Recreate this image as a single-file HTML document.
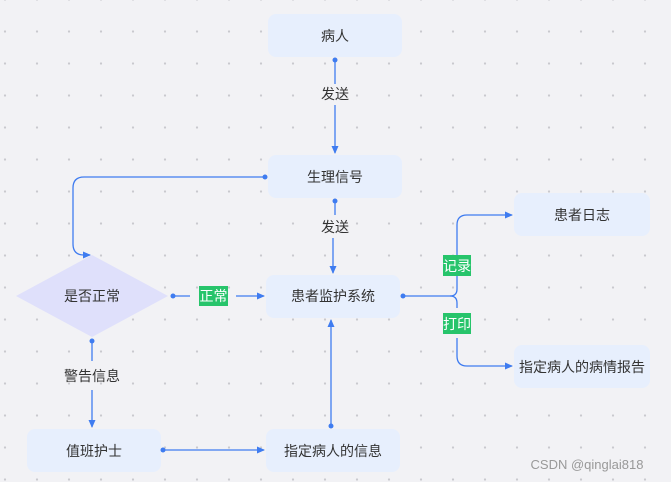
<!DOCTYPE html>
<html><head><meta charset="utf-8"><style>
html,body{margin:0;padding:0}
body{width:671px;height:482px;overflow:hidden;background-color:#f2f2f5;
background-image:radial-gradient(circle,#c9c9ce 1px,transparent 1.3px);
background-size:32px 32px;background-position:-11px 15.5px;
font-family:"Liberation Sans","Noto Sans CJK SC",sans-serif;position:relative}
svg{position:absolute;left:0;top:0}
text{font-family:"Liberation Sans","Noto Sans CJK SC",sans-serif;font-size:14px;fill:#333}
</style></head><body>
<svg width="671" height="482" viewBox="0 0 671 482">
<defs><marker id="a" markerWidth="8" markerHeight="8" refX="7" refY="4" orient="auto" markerUnits="userSpaceOnUse"><path d="M0,0.5 L8,4 L0,7.5 Z" fill="#3f7cf0"/></marker></defs>
<g fill="#e7effd">
<rect x="268" y="14" width="134" height="43" rx="8"/>
<rect x="268" y="155" width="134" height="43" rx="8"/>
<rect x="266" y="275" width="134" height="43" rx="8"/>
<rect x="514" y="193" width="136" height="43" rx="8"/>
<rect x="514" y="345" width="136" height="43" rx="8"/>
<rect x="27" y="429" width="134" height="43" rx="8"/>
<rect x="266" y="429" width="134" height="43" rx="8"/>
</g>
<polygon points="92,255 168,296 92,337 16,296" fill="#dfe0fb"/>
<g stroke="#3f7cf0" stroke-width="1.3" fill="none">
<path d="M335,60 V84 M335,105 V153" marker-end="url(#a)"/>
<path d="M335,201 V215 M333,238 V273" marker-end="url(#a)"/>
<path d="M265,177 H84 Q73,177 73,188 V244 Q73,255 84,255 H90" marker-end="url(#a)"/>
<path d="M173,296 H190 M236,296 H264" marker-end="url(#a)"/>
<path d="M403,296 H450 Q457,296 457,289 V276 M457,255 V225 Q457,215 467,215 H512" marker-end="url(#a)"/>
<path d="M450,296 Q457,296 457,303 V308 M457,338 V356 Q457,366 467,366 H512" marker-end="url(#a)"/>
<path d="M92,341 V361 M92,390 V427" marker-end="url(#a)"/>
<path d="M163,450 H264" marker-end="url(#a)"/>
<path d="M331,426 V320" marker-end="url(#a)"/>
</g>
<g fill="#3f7cf0">
<circle cx="335" cy="60" r="2.5"/><circle cx="335" cy="201" r="2.5"/>
<circle cx="265" cy="177" r="2.5"/><circle cx="173" cy="296" r="2.5"/>
<circle cx="403" cy="296" r="2.5"/><circle cx="92" cy="341" r="2.5"/>
<circle cx="163" cy="450" r="2.5"/><circle cx="331" cy="426" r="2.5"/>
</g>
<g fill="#27c46b">
<rect x="199" y="286" width="29" height="20"/>
<rect x="443" y="255" width="28" height="21"/>
<rect x="443" y="313" width="28" height="21"/>
</g>
<g text-anchor="middle">
<text x="335" y="41">病人</text>
<text x="335" y="99">发送</text>
<text x="335" y="182">生理信号</text>
<text x="335" y="232">发送</text>
<text x="333" y="301">患者监护系统</text>
<text x="92" y="301">是否正常</text>
<text x="213.5" y="301" style="fill:#fff">正常</text>
<text x="457" y="271" style="fill:#fff">记录</text>
<text x="457" y="329" style="fill:#fff">打印</text>
<text x="582" y="220">患者日志</text>
<text x="582" y="372">指定病人的病情报告</text>
<text x="92" y="381">警告信息</text>
<text x="94" y="456">值班护士</text>
<text x="333" y="456">指定病人的信息</text>
<text x="587" y="469" style="fill:#999;font-size:13px">CSDN @qinglai818</text>
</g>
</svg>
</body></html>
